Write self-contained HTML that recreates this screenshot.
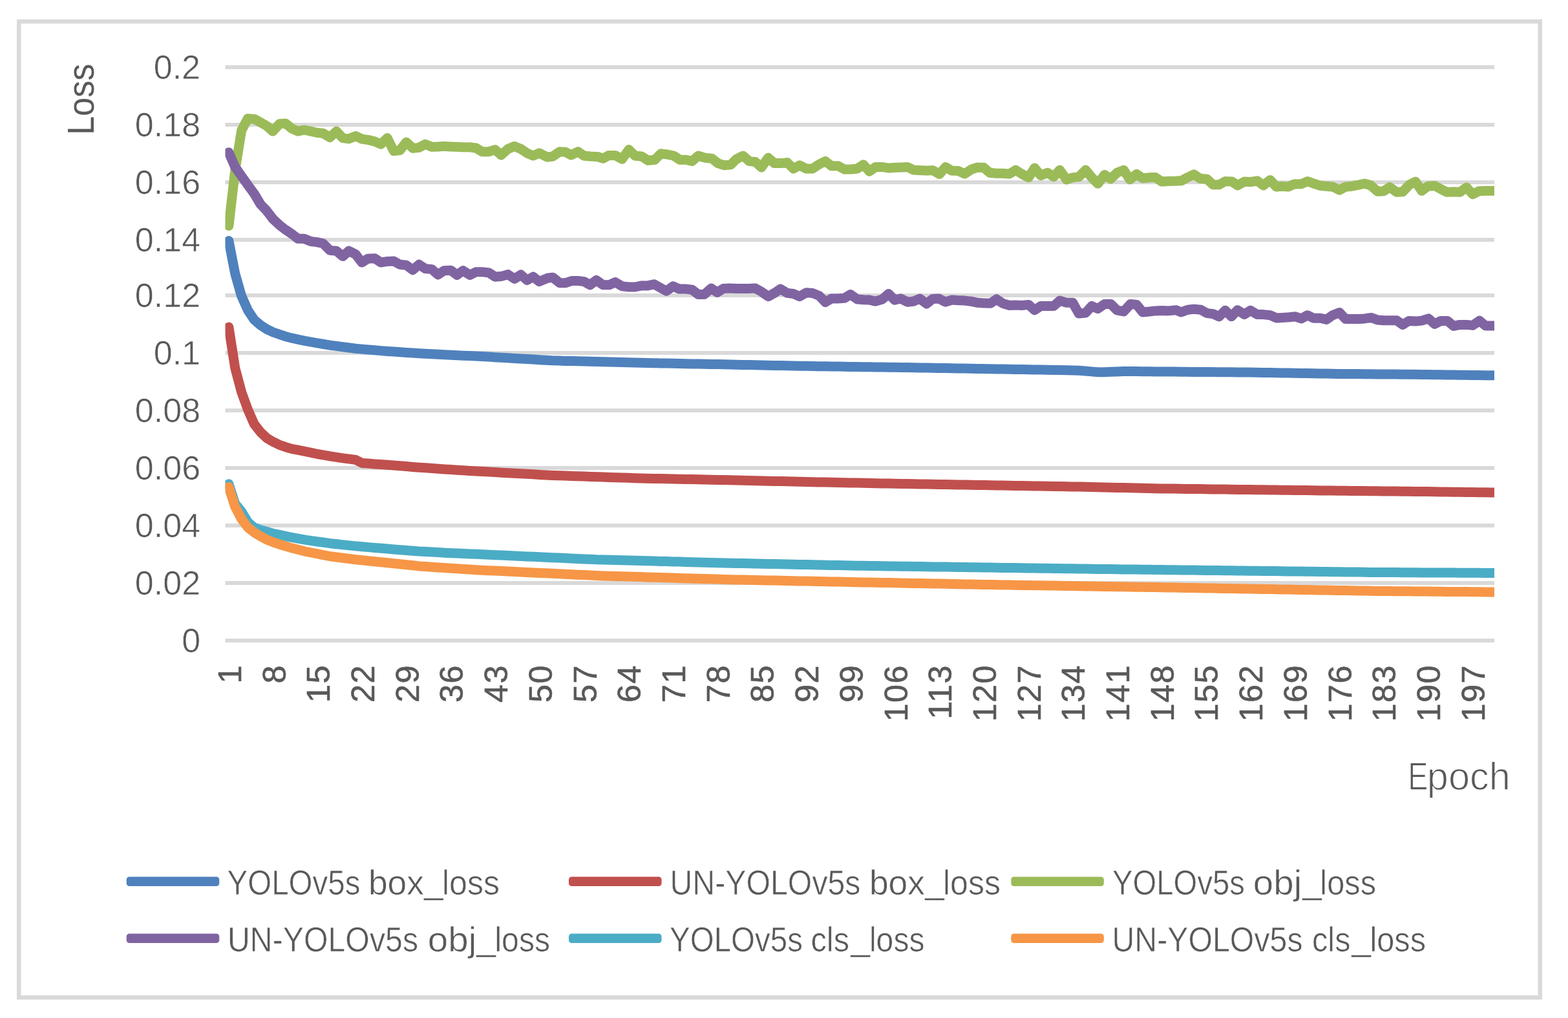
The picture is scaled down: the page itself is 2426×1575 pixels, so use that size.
<!DOCTYPE html>
<html lang="en"><head><meta charset="utf-8"><title>Loss curves</title>
<style>html,body{margin:0;padding:0;background:#fff;}body{width:2426px;height:1575px;overflow:hidden;}svg{display:block;}text{font-family:"Liberation Sans", sans-serif;fill:#595959;stroke:#fff;stroke-width:0.6;stroke-linejoin:round;}.r text,text.r{stroke:#595959;stroke-width:0.6;}text.t{stroke-width:1.3px;}text.t0{stroke:none;}</style>
</head><body>
<svg width="2426" height="1575" viewBox="0 0 2426 1575">
<defs><clipPath id="plot"><rect x="348.5" y="60" width="1963.5" height="960"/></clipPath></defs>
<rect x="0" y="0" width="2426" height="1575" fill="#ffffff"/>
<rect x="29.25" y="33.25" width="2353.5" height="1510" fill="#ffffff" stroke="#D9D9D9" stroke-width="6.5"/>
<g stroke="#D9D9D9" stroke-width="6">
<line x1="348.5" x2="2312.0" y1="104" y2="104"/>
<line x1="348.5" x2="2312.0" y1="193" y2="193"/>
<line x1="348.5" x2="2312.0" y1="282" y2="282"/>
<line x1="348.5" x2="2312.0" y1="371" y2="371"/>
<line x1="348.5" x2="2312.0" y1="457" y2="457"/>
<line x1="348.5" x2="2312.0" y1="546" y2="546"/>
<line x1="348.5" x2="2312.0" y1="635" y2="635"/>
<line x1="348.5" x2="2312.0" y1="724" y2="724"/>
<line x1="348.5" x2="2312.0" y1="813" y2="813"/>
<line x1="348.5" x2="2312.0" y1="902" y2="902"/>
<line x1="348.5" x2="2312.0" y1="991" y2="991"/>
</g>
<g font-size="52.09" text-anchor="end">
<text x="310.10" y="122.05">0.2</text>
<text x="310.10" y="211.05">0.18</text>
<text x="310.10" y="300.05">0.16</text>
<text x="310.10" y="389.05">0.14</text>
<text x="310.10" y="475.05">0.12</text>
<text x="310.10" y="564.05">0.1</text>
<text x="310.10" y="653.05">0.08</text>
<text x="310.10" y="742.05">0.06</text>
<text x="310.10" y="831.05">0.04</text>
<text x="310.10" y="920.05">0.02</text>
<text x="310.10" y="1009.05">0</text>
</g>
<g font-size="50.42" text-anchor="end" class="r" style="letter-spacing:1.4px">
<text transform="translate(372.96,1028.10) rotate(-90)">1</text>
<text transform="translate(441.66,1028.10) rotate(-90)">8</text>
<text transform="translate(510.37,1028.10) rotate(-90)">15</text>
<text transform="translate(579.07,1028.10) rotate(-90)">22</text>
<text transform="translate(647.78,1028.10) rotate(-90)">29</text>
<text transform="translate(716.48,1028.10) rotate(-90)">36</text>
<text transform="translate(785.19,1028.10) rotate(-90)">43</text>
<text transform="translate(853.89,1028.10) rotate(-90)">50</text>
<text transform="translate(922.60,1028.10) rotate(-90)">57</text>
<text transform="translate(991.30,1028.10) rotate(-90)">64</text>
<text transform="translate(1060.01,1028.10) rotate(-90)">71</text>
<text transform="translate(1128.71,1028.10) rotate(-90)">78</text>
<text transform="translate(1197.42,1028.10) rotate(-90)">85</text>
<text transform="translate(1266.12,1028.10) rotate(-90)">92</text>
<text transform="translate(1334.83,1028.10) rotate(-90)">99</text>
<text transform="translate(1403.53,1028.10) rotate(-90)">106</text>
<text transform="translate(1472.24,1028.10) rotate(-90)">113</text>
<text transform="translate(1540.94,1028.10) rotate(-90)">120</text>
<text transform="translate(1609.65,1028.10) rotate(-90)">127</text>
<text transform="translate(1678.35,1028.10) rotate(-90)">134</text>
<text transform="translate(1747.06,1028.10) rotate(-90)">141</text>
<text transform="translate(1815.76,1028.10) rotate(-90)">148</text>
<text transform="translate(1884.47,1028.10) rotate(-90)">155</text>
<text transform="translate(1953.17,1028.10) rotate(-90)">162</text>
<text transform="translate(2021.88,1028.10) rotate(-90)">169</text>
<text transform="translate(2090.58,1028.10) rotate(-90)">176</text>
<text transform="translate(2159.29,1028.10) rotate(-90)">183</text>
<text transform="translate(2227.99,1028.10) rotate(-90)">190</text>
<text transform="translate(2296.70,1028.10) rotate(-90)">197</text>
</g>
<text class="t0" font-size="57.85" transform="translate(145.10,208.83) rotate(-90)" textLength="110.25" lengthAdjust="spacingAndGlyphs">Loss</text>
<text class="t" font-size="60.76" y="1221.85"><tspan x="2178.14" textLength="31.23" lengthAdjust="spacingAndGlyphs">E</tspan><tspan x="2207.84" textLength="129.08" lengthAdjust="spacingAndGlyphs">poch</tspan></text>
<g clip-path="url(#plot)" fill="none" stroke-width="15" stroke-linejoin="round" stroke-linecap="round">
<path d="M353.9,372.6 L363.7,423.1 L373.5,457.6 L383.4,479.8 L393.2,494.6 L403.0,503.0 L412.8,509.4 L422.6,514.0 L432.4,517.3 L442.2,520.7 L452.1,523.2 L461.9,525.3 L471.7,527.4 L481.5,529.1 L491.3,530.8 L501.1,532.5 L510.9,534.2 L520.8,535.4 L530.6,536.7 L540.4,538.0 L550.2,539.2 L560.0,540.1 L569.8,540.9 L579.7,541.7 L589.5,542.6 L599.3,543.4 L609.1,544.1 L618.9,544.8 L628.7,545.4 L638.5,546.1 L648.4,546.8 L658.2,547.3 L668.0,547.8 L677.8,548.3 L687.6,548.8 L697.4,549.3 L707.2,549.7 L717.1,550.2 L726.9,550.6 L736.7,551.0 L746.5,551.6 L756.3,552.1 L766.1,552.7 L776.0,553.3 L785.8,553.8 L795.6,554.4 L805.4,555.0 L815.2,555.5 L825.0,556.1 L834.8,556.7 L844.7,557.2 L854.5,557.8 L864.3,558.1 L874.1,558.4 L883.9,558.6 L893.7,558.8 L903.5,559.1 L913.4,559.3 L923.2,559.6 L933.0,559.8 L942.8,560.1 L952.6,560.3 L962.4,560.6 L972.3,560.8 L982.1,561.1 L991.9,561.3 L1001.7,561.5 L1011.5,561.7 L1021.3,561.9 L1031.1,562.1 L1041.0,562.3 L1050.8,562.5 L1060.6,562.7 L1070.4,562.9 L1080.2,563.1 L1090.0,563.2 L1099.8,563.4 L1109.7,563.6 L1119.5,563.8 L1129.3,564.0 L1139.1,564.2 L1148.9,564.4 L1158.7,564.6 L1168.6,564.8 L1178.4,565.0 L1188.2,565.2 L1198.0,565.4 L1207.8,565.6 L1217.6,565.8 L1227.4,566.0 L1237.3,566.2 L1247.1,566.3 L1256.9,566.5 L1266.7,566.7 L1276.5,566.8 L1286.3,567.0 L1296.1,567.1 L1306.0,567.2 L1315.8,567.4 L1325.6,567.5 L1335.4,567.7 L1345.2,567.8 L1355.0,567.9 L1364.9,568.1 L1374.7,568.2 L1384.5,568.3 L1394.3,568.5 L1404.1,568.6 L1413.9,568.8 L1423.7,569.0 L1433.6,569.1 L1443.4,569.3 L1453.2,569.5 L1463.0,569.6 L1472.8,569.8 L1482.6,570.0 L1492.4,570.1 L1502.3,570.3 L1512.1,570.5 L1521.9,570.6 L1531.7,570.8 L1541.5,571.0 L1551.3,571.1 L1561.2,571.3 L1571.0,571.5 L1580.8,571.6 L1590.6,571.8 L1600.4,572.0 L1610.2,572.1 L1620.0,572.3 L1629.9,572.5 L1639.7,572.6 L1649.5,572.8 L1659.3,573.0 L1669.1,573.2 L1678.9,574.0 L1688.7,574.9 L1698.6,575.7 L1708.4,575.7 L1718.2,575.3 L1728.0,574.9 L1737.8,574.5 L1747.6,574.5 L1757.5,574.6 L1767.3,574.7 L1777.1,574.8 L1786.9,574.9 L1796.7,575.0 L1806.5,575.0 L1816.3,575.1 L1826.2,575.2 L1836.0,575.3 L1845.8,575.4 L1855.6,575.4 L1865.4,575.5 L1875.2,575.6 L1885.0,575.7 L1894.9,575.7 L1904.7,575.8 L1914.5,575.9 L1924.3,576.0 L1934.1,576.1 L1943.9,576.3 L1953.8,576.5 L1963.6,576.6 L1973.4,576.8 L1983.2,577.0 L1993.0,577.1 L2002.8,577.3 L2012.6,577.5 L2022.5,577.6 L2032.3,577.8 L2042.1,578.0 L2051.9,578.1 L2061.7,578.3 L2071.5,578.4 L2081.3,578.5 L2091.2,578.5 L2101.0,578.6 L2110.8,578.7 L2120.6,578.8 L2130.4,578.9 L2140.2,578.9 L2150.1,579.0 L2159.9,579.1 L2169.7,579.2 L2179.5,579.3 L2189.3,579.3 L2199.1,579.4 L2208.9,579.5 L2218.8,579.7 L2228.6,579.8 L2238.4,579.9 L2248.2,580.1 L2258.0,580.2 L2267.8,580.3 L2277.6,580.4 L2287.5,580.6 L2297.3,580.7 L2307.1,580.8 L2330.0,580.8" stroke="#4F81BD"/>
<path d="M353.9,506.1 L363.7,569.2 L373.5,606.2 L383.4,633.5 L393.2,655.9 L403.0,668.5 L412.8,677.7 L422.6,683.6 L432.4,688.3 L442.2,691.7 L452.1,694.6 L461.9,696.4 L471.7,698.3 L481.5,700.4 L491.3,702.5 L501.1,704.1 L510.9,705.8 L520.8,707.3 L530.6,708.9 L540.4,710.1 L550.2,711.4 L560.0,716.4 L569.8,717.1 L579.7,717.9 L589.5,718.6 L599.3,719.3 L609.1,720.1 L618.9,720.8 L628.7,721.6 L638.5,722.4 L648.4,723.2 L658.2,723.8 L668.0,724.5 L677.8,725.2 L687.6,725.9 L697.4,726.5 L707.2,727.2 L717.1,727.8 L726.9,728.4 L736.7,729.1 L746.5,729.6 L756.3,730.1 L766.1,730.6 L776.0,731.2 L785.8,731.7 L795.6,732.2 L805.4,732.8 L815.2,733.3 L825.0,733.8 L834.8,734.4 L844.7,734.9 L854.5,735.4 L864.3,735.8 L874.1,736.1 L883.9,736.4 L893.7,736.7 L903.5,737.1 L913.4,737.4 L923.2,737.7 L933.0,738.0 L942.8,738.4 L952.6,738.7 L962.4,739.0 L972.3,739.3 L982.1,739.7 L991.9,740.0 L1001.7,740.2 L1011.5,740.4 L1021.3,740.6 L1031.1,740.8 L1041.0,741.0 L1050.8,741.2 L1060.6,741.4 L1070.4,741.6 L1080.2,741.8 L1090.0,742.0 L1099.8,742.2 L1109.7,742.4 L1119.5,742.6 L1129.3,742.8 L1139.1,743.1 L1148.9,743.3 L1158.7,743.5 L1168.6,743.7 L1178.4,743.9 L1188.2,744.2 L1198.0,744.4 L1207.8,744.6 L1217.6,744.8 L1227.4,745.1 L1237.3,745.3 L1247.1,745.5 L1256.9,745.7 L1266.7,745.9 L1276.5,746.1 L1286.3,746.3 L1296.1,746.5 L1306.0,746.7 L1315.8,746.9 L1325.6,747.1 L1335.4,747.3 L1345.2,747.5 L1355.0,747.7 L1364.9,747.9 L1374.7,748.1 L1384.5,748.3 L1394.3,748.5 L1404.1,748.6 L1413.9,748.8 L1423.7,748.9 L1433.6,749.1 L1443.4,749.3 L1453.2,749.4 L1463.0,749.6 L1472.8,749.7 L1482.6,749.9 L1492.4,750.1 L1502.3,750.2 L1512.1,750.4 L1521.9,750.5 L1531.7,750.7 L1541.5,750.9 L1551.3,751.0 L1561.2,751.2 L1571.0,751.4 L1580.8,751.5 L1590.6,751.7 L1600.4,751.9 L1610.2,752.0 L1620.0,752.2 L1629.9,752.4 L1639.7,752.5 L1649.5,752.7 L1659.3,752.9 L1669.1,753.0 L1678.9,753.3 L1688.7,753.5 L1698.6,753.7 L1708.4,753.9 L1718.2,754.2 L1728.0,754.4 L1737.8,754.6 L1747.6,754.8 L1757.5,755.1 L1767.3,755.3 L1777.1,755.5 L1786.9,755.7 L1796.7,755.9 L1806.5,756.0 L1816.3,756.1 L1826.2,756.3 L1836.0,756.4 L1845.8,756.5 L1855.6,756.6 L1865.4,756.7 L1875.2,756.9 L1885.0,757.0 L1894.9,757.1 L1904.7,757.2 L1914.5,757.4 L1924.3,757.5 L1934.1,757.6 L1943.9,757.7 L1953.8,757.8 L1963.6,757.9 L1973.4,758.1 L1983.2,758.2 L1993.0,758.3 L2002.8,758.4 L2012.6,758.5 L2022.5,758.6 L2032.3,758.8 L2042.1,758.9 L2051.9,759.0 L2061.7,759.1 L2071.5,759.2 L2081.3,759.3 L2091.2,759.4 L2101.0,759.5 L2110.8,759.6 L2120.6,759.7 L2130.4,759.8 L2140.2,759.9 L2150.1,760.0 L2159.9,760.1 L2169.7,760.2 L2179.5,760.3 L2189.3,760.4 L2199.1,760.5 L2208.9,760.6 L2218.8,760.8 L2228.6,760.9 L2238.4,761.0 L2248.2,761.2 L2258.0,761.3 L2267.8,761.4 L2277.6,761.5 L2287.5,761.7 L2297.3,761.8 L2307.1,761.9 L2330.0,761.9" stroke="#C0504D"/>
<path d="M353.9,349.3 L363.8,263.1 L373.7,201.6 L383.3,183.6 L393.6,184.2 L403.1,189.4 L412.6,194.7 L422.0,203.1 L432.6,191.6 L442.0,191.1 L451.5,198.9 L461.0,203.1 L470.4,201.0 L480.9,203.1 L490.4,205.2 L499.9,206.3 L510.4,212.6 L520.5,203.1 L530.4,213.6 L539.8,214.7 L550.3,210.5 L559.8,215.1 L569.3,216.4 L579.8,218.9 L589.3,223.1 L599.2,213.6 L609.2,233.6 L618.7,232.6 L628.6,219.9 L638.7,229.4 L648.2,228.4 L658.0,223.1 L668.1,227.3 L677.6,226.9 L687.1,226.3 L697.6,226.9 L707.1,227.3 L716.5,227.7 L727.0,227.7 L736.5,229.0 L746.0,234.7 L756.5,234.7 L766.0,231.5 L775.4,239.9 L785.9,230.5 L796.0,226.3 L805.9,230.5 L815.4,236.8 L824.9,241.0 L834.3,236.8 L846.8,243.1 L855.2,242.0 L865.8,234.7 L875.2,235.3 L883.6,239.9 L894.2,234.7 L903.6,241.0 L914.1,242.0 L924.7,242.5 L933.1,245.2 L941.5,240.4 L952.0,240.4 L962.5,246.2 L973.0,231.5 L982.5,241.0 L993.0,242.0 L1002.5,248.3 L1013.0,247.3 L1022.5,237.8 L1031.9,238.9 L1042.5,241.0 L1051.9,247.3 L1061.4,247.3 L1070.8,249.4 L1080.3,241.0 L1090.8,244.1 L1101.4,245.2 L1110.8,252.6 L1120.3,255.7 L1130.8,254.7 L1139.2,246.2 L1149.7,241.0 L1159.2,249.4 L1168.7,250.5 L1178.1,258.9 L1188.6,244.1 L1198.1,252.6 L1208.6,252.6 L1218.1,251.5 L1227.6,261.0 L1237.0,255.7 L1247.5,261.0 L1257.0,261.0 L1266.5,254.7 L1277.0,249.4 L1286.5,256.8 L1297.0,256.8 L1306.4,262.0 L1315.9,262.0 L1326.3,261.0 L1335.8,254.7 L1345.2,265.2 L1354.7,258.4 L1364.2,258.4 L1374.7,259.9 L1384.2,259.3 L1393.6,258.9 L1404.1,258.4 L1413.6,263.1 L1423.1,263.5 L1433.6,264.1 L1443.1,263.5 L1453.6,269.4 L1463.0,258.4 L1472.5,264.1 L1483.0,264.5 L1492.5,269.0 L1503.0,262.0 L1512.5,258.9 L1521.9,259.3 L1531.4,267.3 L1541.9,268.3 L1551.4,268.3 L1561.9,269.0 L1571.4,263.1 L1580.8,269.0 L1591.4,274.6 L1600.8,259.9 L1610.3,271.5 L1620.8,267.3 L1630.3,273.6 L1639.7,263.1 L1650.2,277.8 L1659.7,274.6 L1669.2,273.6 L1679.7,263.1 L1689.2,274.6 L1698.6,284.1 L1709.1,270.4 L1718.6,276.7 L1728.1,267.3 L1738.6,263.1 L1748.1,277.8 L1758.6,269.4 L1768.0,275.7 L1778.6,274.6 L1788.0,274.6 L1797.5,281.0 L1808.0,280.3 L1820.0,279.9 L1828.4,279.4 L1837.9,274.2 L1847.3,269.9 L1856.8,276.3 L1867.3,276.9 L1876.8,285.7 L1886.3,285.7 L1895.7,280.5 L1906.2,281.1 L1914.7,286.8 L1925.2,281.1 L1934.6,281.5 L1945.2,279.8 L1954.6,286.8 L1965.1,278.4 L1974.6,288.9 L1984.1,288.2 L1993.5,288.9 L2003.0,284.7 L2013.5,284.7 L2023.0,280.5 L2032.5,284.0 L2043.0,287.4 L2052.4,288.2 L2061.9,288.9 L2072.4,294.1 L2081.9,288.9 L2091.4,288.2 L2101.9,286.1 L2111.3,284.0 L2120.8,286.8 L2131.3,296.2 L2140.8,295.8 L2150.2,289.5 L2160.8,297.3 L2170.2,296.7 L2180.7,285.7 L2190.2,281.1 L2199.7,295.2 L2209.1,288.2 L2219.7,287.4 L2229.1,292.5 L2238.6,297.3 L2249.1,296.7 L2258.6,297.3 L2269.1,289.9 L2278.6,300.5 L2288.0,295.8 L2298.5,295.2 L2330.0,295.2" stroke="#9BBB59"/>
<path d="M353.9,235.7 L363.8,258.4 L373.7,272.5 L383.3,286.0 L393.6,300.1 L403.1,316.1 L412.6,326.0 L422.0,338.4 L432.6,348.3 L442.0,355.6 L451.5,361.9 L461.0,369.3 L470.4,369.3 L480.9,373.5 L490.4,374.6 L499.9,376.7 L510.4,387.2 L520.5,388.2 L530.4,396.6 L539.8,388.2 L550.3,393.5 L559.8,406.1 L569.3,400.2 L579.8,399.8 L589.3,406.1 L599.2,404.4 L609.2,404.0 L618.7,409.3 L628.6,410.3 L638.7,417.7 L648.2,409.3 L658.0,415.6 L668.1,416.6 L677.6,425.0 L687.1,418.7 L697.6,418.3 L707.1,425.5 L716.5,418.7 L727.0,425.5 L736.5,420.8 L746.0,420.8 L756.5,421.9 L766.0,428.2 L775.4,427.6 L785.9,424.6 L796.0,431.4 L805.9,425.0 L815.4,433.5 L824.9,428.2 L834.3,435.6 L846.8,430.3 L855.2,429.2 L865.8,437.7 L875.2,437.7 L884.7,434.5 L894.2,434.5 L903.6,435.6 L913.1,440.8 L922.6,433.5 L933.1,440.8 L942.5,440.8 L952.0,436.6 L962.5,442.9 L973.0,444.0 L982.5,444.0 L993.0,441.9 L1002.5,441.9 L1012.0,439.8 L1021.4,445.0 L1030.9,450.3 L1041.4,442.9 L1050.9,447.1 L1061.4,447.1 L1070.8,448.2 L1080.3,455.5 L1089.8,455.5 L1100.3,446.1 L1109.8,452.4 L1119.2,446.5 L1128.7,446.1 L1139.2,446.5 L1148.7,446.5 L1158.1,446.5 L1168.7,446.1 L1178.1,451.3 L1188.6,458.7 L1198.1,453.4 L1207.6,447.1 L1218.1,453.4 L1227.6,454.5 L1237.0,458.7 L1247.5,452.8 L1257.0,453.4 L1267.5,457.6 L1277.0,467.5 L1286.5,461.9 L1295.9,461.9 L1306.4,461.2 L1315.9,455.5 L1326.3,463.0 L1335.8,463.7 L1345.2,464.1 L1354.7,466.2 L1365.2,463.0 L1374.7,454.6 L1384.2,464.1 L1393.6,462.0 L1404.1,467.2 L1413.6,466.2 L1423.1,462.0 L1433.6,470.0 L1443.1,462.4 L1452.5,462.0 L1463.0,467.2 L1472.5,464.1 L1483.0,464.7 L1492.5,465.1 L1502.0,466.2 L1512.5,468.3 L1521.9,468.9 L1532.5,469.3 L1541.9,463.0 L1551.4,469.3 L1561.9,472.5 L1571.4,472.1 L1580.8,472.5 L1591.4,471.4 L1600.8,479.8 L1610.3,473.5 L1620.8,473.5 L1630.3,473.5 L1639.7,465.1 L1650.2,468.3 L1659.7,468.3 L1669.2,485.1 L1679.7,484.1 L1689.2,473.5 L1698.6,477.7 L1709.1,470.4 L1718.6,470.4 L1728.1,479.8 L1738.6,482.0 L1749.1,470.4 L1758.6,471.4 L1768.0,483.0 L1778.6,482.0 L1788.0,480.9 L1797.5,480.5 L1808.0,480.9 L1820.0,479.8 L1827.4,483.0 L1837.9,479.2 L1847.3,478.2 L1857.9,479.2 L1867.3,484.5 L1876.8,485.6 L1886.3,489.8 L1895.7,480.3 L1905.2,489.8 L1914.7,479.7 L1925.2,486.6 L1934.6,480.3 L1945.2,486.6 L1954.6,486.6 L1965.1,487.7 L1974.6,491.9 L1984.1,491.4 L1994.6,490.8 L2004.1,489.8 L2013.5,492.9 L2023.0,487.7 L2032.5,492.3 L2043.0,492.3 L2052.4,494.4 L2061.9,487.7 L2072.4,483.5 L2081.9,493.6 L2091.4,493.6 L2101.9,493.6 L2111.3,492.9 L2121.9,491.4 L2131.3,495.0 L2140.8,495.7 L2151.3,495.7 L2160.8,495.7 L2170.2,502.4 L2179.7,496.5 L2190.2,497.1 L2199.7,496.1 L2210.2,492.9 L2219.7,501.3 L2229.1,496.5 L2239.6,496.5 L2249.1,504.5 L2258.6,502.4 L2269.1,502.4 L2278.6,503.4 L2289.1,496.1 L2298.5,504.1 L2330.0,504.1" stroke="#8064A2"/>
<path d="M353.9,748.8 L363.7,779.1 L373.5,791.2 L383.4,807.7 L393.2,816.1 L403.0,819.8 L412.8,822.5 L422.6,825.4 L432.4,827.4 L442.2,829.6 L452.1,831.6 L461.9,833.4 L471.7,835.1 L481.5,836.6 L491.3,838.0 L501.1,839.3 L510.9,840.7 L520.8,841.8 L530.6,842.9 L540.4,843.9 L550.2,844.9 L560.0,845.7 L569.8,846.6 L579.7,847.4 L589.5,848.3 L599.3,849.1 L609.1,849.9 L618.9,850.7 L628.7,851.5 L638.5,852.3 L648.4,853.1 L658.2,853.6 L668.0,854.1 L677.8,854.6 L687.6,855.2 L697.4,855.7 L707.2,856.1 L717.1,856.5 L726.9,856.9 L736.7,857.3 L746.5,857.8 L756.3,858.2 L766.1,858.7 L776.0,859.1 L785.8,859.6 L795.6,860.0 L805.4,860.4 L815.2,860.9 L825.0,861.3 L834.8,861.8 L844.7,862.2 L854.5,862.7 L864.3,863.1 L874.1,863.5 L883.9,864.0 L893.7,864.4 L903.5,864.9 L913.4,865.3 L923.2,865.8 L933.0,866.0 L942.8,866.3 L952.6,866.6 L962.4,866.8 L972.3,867.1 L982.1,867.3 L991.9,867.6 L1001.7,867.8 L1011.5,868.1 L1021.3,868.4 L1031.1,868.6 L1041.0,868.9 L1050.8,869.1 L1060.6,869.4 L1070.4,869.7 L1080.2,869.9 L1090.0,870.2 L1099.8,870.4 L1109.7,870.7 L1119.5,871.0 L1129.3,871.2 L1139.1,871.4 L1148.9,871.6 L1158.7,871.8 L1168.6,872.0 L1178.4,872.2 L1188.2,872.4 L1198.0,872.6 L1207.8,872.8 L1217.6,873.0 L1227.4,873.2 L1237.3,873.4 L1247.1,873.6 L1256.9,873.8 L1266.7,874.0 L1276.5,874.2 L1286.3,874.4 L1296.1,874.6 L1306.0,874.8 L1315.8,875.0 L1325.6,875.2 L1335.4,875.3 L1345.2,875.5 L1355.0,875.6 L1364.9,875.8 L1374.7,875.9 L1384.5,876.0 L1394.3,876.2 L1404.1,876.3 L1413.9,876.4 L1423.7,876.6 L1433.6,876.7 L1443.4,876.9 L1453.2,877.0 L1463.0,877.1 L1472.8,877.3 L1482.6,877.4 L1492.4,877.5 L1502.3,877.7 L1512.1,877.8 L1521.9,878.0 L1531.7,878.1 L1541.5,878.2 L1551.3,878.4 L1561.2,878.5 L1571.0,878.6 L1580.8,878.8 L1590.6,878.9 L1600.4,879.0 L1610.2,879.2 L1620.0,879.3 L1629.9,879.4 L1639.7,879.6 L1649.5,879.7 L1659.3,879.8 L1669.1,880.0 L1678.9,880.1 L1688.7,880.2 L1698.6,880.4 L1708.4,880.5 L1718.2,880.6 L1728.0,880.7 L1737.8,880.9 L1747.6,881.0 L1757.5,881.1 L1767.3,881.2 L1777.1,881.3 L1786.9,881.4 L1796.7,881.6 L1806.5,881.7 L1816.3,881.8 L1826.2,881.9 L1836.0,882.0 L1845.8,882.1 L1855.6,882.2 L1865.4,882.4 L1875.2,882.5 L1885.0,882.6 L1894.9,882.7 L1904.7,882.8 L1914.5,882.9 L1924.3,883.1 L1934.1,883.2 L1943.9,883.3 L1953.8,883.4 L1963.6,883.5 L1973.4,883.6 L1983.2,883.7 L1993.0,883.9 L2002.8,884.0 L2012.6,884.1 L2022.5,884.2 L2032.3,884.3 L2042.1,884.4 L2051.9,884.6 L2061.7,884.7 L2071.5,884.8 L2081.3,884.9 L2091.2,885.0 L2101.0,885.1 L2110.8,885.3 L2120.6,885.4 L2130.4,885.5 L2140.2,885.5 L2150.1,885.6 L2159.9,885.6 L2169.7,885.7 L2179.5,885.8 L2189.3,885.8 L2199.1,885.9 L2208.9,885.9 L2218.8,886.0 L2228.6,886.0 L2238.4,886.1 L2248.2,886.1 L2258.0,886.2 L2267.8,886.2 L2277.6,886.3 L2287.5,886.3 L2297.3,886.4 L2307.1,886.4 L2330.0,886.4" stroke="#4BACC6"/>
<path d="M353.9,753.5 L363.7,784.1 L373.5,802.7 L383.4,815.8 L393.2,823.7 L403.0,829.6 L412.8,835.0 L422.6,838.8 L432.4,842.2 L442.2,845.1 L452.1,848.1 L461.9,850.6 L471.7,853.1 L481.5,855.0 L491.3,856.8 L501.1,858.8 L510.9,860.7 L520.8,862.0 L530.6,863.2 L540.4,864.5 L550.2,865.8 L560.0,866.8 L569.8,867.8 L579.7,868.8 L589.5,869.8 L599.3,870.8 L609.1,871.8 L618.9,872.8 L628.7,873.8 L638.5,874.8 L648.4,875.9 L658.2,876.5 L668.0,877.2 L677.8,877.9 L687.6,878.5 L697.4,879.2 L707.2,879.8 L717.1,880.5 L726.9,881.1 L736.7,881.7 L746.5,882.2 L756.3,882.7 L766.1,883.1 L776.0,883.6 L785.8,884.1 L795.6,884.5 L805.4,885.0 L815.2,885.5 L825.0,885.9 L834.8,886.4 L844.7,886.8 L854.5,887.3 L864.3,887.8 L874.1,888.2 L883.9,888.7 L893.7,889.2 L903.5,889.6 L913.4,890.1 L923.2,890.6 L933.0,890.9 L942.8,891.2 L952.6,891.4 L962.4,891.7 L972.3,892.0 L982.1,892.3 L991.9,892.6 L1001.7,892.9 L1011.5,893.2 L1021.3,893.5 L1031.1,893.8 L1041.0,894.1 L1050.8,894.4 L1060.6,894.7 L1070.4,895.0 L1080.2,895.3 L1090.0,895.6 L1099.8,895.8 L1109.7,896.1 L1119.5,896.4 L1129.3,896.7 L1139.1,896.9 L1148.9,897.1 L1158.7,897.3 L1168.6,897.5 L1178.4,897.7 L1188.2,897.9 L1198.0,898.1 L1207.8,898.3 L1217.6,898.5 L1227.4,898.7 L1237.3,898.9 L1247.1,899.1 L1256.9,899.3 L1266.7,899.5 L1276.5,899.7 L1286.3,899.9 L1296.1,900.1 L1306.0,900.3 L1315.8,900.5 L1325.6,900.7 L1335.4,900.9 L1345.2,901.0 L1355.0,901.2 L1364.9,901.4 L1374.7,901.6 L1384.5,901.8 L1394.3,902.0 L1404.1,902.2 L1413.9,902.4 L1423.7,902.6 L1433.6,902.7 L1443.4,902.9 L1453.2,903.1 L1463.0,903.3 L1472.8,903.5 L1482.6,903.7 L1492.4,903.9 L1502.3,904.1 L1512.1,904.3 L1521.9,904.4 L1531.7,904.6 L1541.5,904.8 L1551.3,904.9 L1561.2,905.1 L1571.0,905.2 L1580.8,905.4 L1590.6,905.5 L1600.4,905.7 L1610.2,905.8 L1620.0,906.0 L1629.9,906.1 L1639.7,906.3 L1649.5,906.4 L1659.3,906.6 L1669.1,906.7 L1678.9,906.9 L1688.7,907.1 L1698.6,907.2 L1708.4,907.4 L1718.2,907.5 L1728.0,907.7 L1737.8,907.8 L1747.6,908.0 L1757.5,908.2 L1767.3,908.3 L1777.1,908.5 L1786.9,908.6 L1796.7,908.8 L1806.5,909.0 L1816.3,909.1 L1826.2,909.3 L1836.0,909.5 L1845.8,909.6 L1855.6,909.8 L1865.4,910.0 L1875.2,910.1 L1885.0,910.3 L1894.9,910.4 L1904.7,910.6 L1914.5,910.8 L1924.3,910.9 L1934.1,911.1 L1943.9,911.3 L1953.8,911.4 L1963.6,911.6 L1973.4,911.8 L1983.2,911.9 L1993.0,912.1 L2002.8,912.2 L2012.6,912.4 L2022.5,912.6 L2032.3,912.7 L2042.1,912.9 L2051.9,913.1 L2061.7,913.2 L2071.5,913.4 L2081.3,913.6 L2091.2,913.7 L2101.0,913.9 L2110.8,914.0 L2120.6,914.2 L2130.4,914.4 L2140.2,914.5 L2150.1,914.6 L2159.9,914.7 L2169.7,914.7 L2179.5,914.8 L2189.3,914.9 L2199.1,915.0 L2208.9,915.1 L2218.8,915.2 L2228.6,915.3 L2238.4,915.4 L2248.2,915.5 L2258.0,915.5 L2267.8,915.6 L2277.6,915.7 L2287.5,915.8 L2297.3,915.9 L2307.1,916.0 L2330.0,916.0" stroke="#F79646"/>
</g>
<rect x="195.7" y="1356.4" width="143.6" height="14.6" rx="4.5" fill="#4F81BD"/>
<rect x="880.0" y="1356.4" width="143.6" height="14.6" rx="4.5" fill="#C0504D"/>
<rect x="1564.3" y="1356.4" width="143.6" height="14.6" rx="4.5" fill="#9BBB59"/>
<rect x="195.7" y="1444.5" width="143.6" height="14.6" rx="4.5" fill="#8064A2"/>
<rect x="880.0" y="1444.5" width="143.6" height="14.6" rx="4.5" fill="#4BACC6"/>
<rect x="1564.3" y="1444.5" width="143.6" height="14.6" rx="4.5" fill="#F79646"/>
<g font-size="54.07">
<text y="1383.70"><tspan x="351.48" textLength="206.04" lengthAdjust="spacingAndGlyphs">YOLOv5s</tspan> <tspan x="569.90" textLength="86.15" lengthAdjust="spacingAndGlyphs">box</tspan><tspan x="656.00" dy="-1.8" textLength="29.66" lengthAdjust="spacingAndGlyphs">_</tspan><tspan x="683.88" dy="1.8" textLength="89.18" lengthAdjust="spacingAndGlyphs">loss</tspan></text>
<text y="1383.70"><tspan x="1036.45" textLength="295.07" lengthAdjust="spacingAndGlyphs">UN-YOLOv5s</tspan> <tspan x="1344.88" textLength="86.19" lengthAdjust="spacingAndGlyphs">box</tspan><tspan x="1431.20" dy="-1.8" textLength="29.66" lengthAdjust="spacingAndGlyphs">_</tspan><tspan x="1458.90" dy="1.8" textLength="89.20" lengthAdjust="spacingAndGlyphs">loss</tspan></text>
<text y="1383.70"><tspan x="1720.97" textLength="205.05" lengthAdjust="spacingAndGlyphs">YOLOv5s</tspan> <tspan x="1938.81" textLength="75.40" lengthAdjust="spacingAndGlyphs">obj</tspan><tspan x="2015.20" dy="-1.8" textLength="29.76" lengthAdjust="spacingAndGlyphs">_</tspan><tspan x="2042.33" dy="1.8" textLength="86.80" lengthAdjust="spacingAndGlyphs">loss</tspan></text>
<text y="1471.80"><tspan x="351.96" textLength="295.07" lengthAdjust="spacingAndGlyphs">UN-YOLOv5s</tspan> <tspan x="661.86" textLength="75.39" lengthAdjust="spacingAndGlyphs">obj</tspan><tspan x="737.60" dy="-1.8" textLength="29.76" lengthAdjust="spacingAndGlyphs">_</tspan><tspan x="765.41" dy="1.8" textLength="85.63" lengthAdjust="spacingAndGlyphs">loss</tspan></text>
<text y="1471.80"><tspan x="1035.97" textLength="206.07" lengthAdjust="spacingAndGlyphs">YOLOv5s</tspan> <tspan x="1254.46" textLength="59.61" lengthAdjust="spacingAndGlyphs">cls</tspan><tspan x="1316.50" dy="-1.8" textLength="29.76" lengthAdjust="spacingAndGlyphs">_</tspan><tspan x="1344.92" dy="1.8" textLength="85.64" lengthAdjust="spacingAndGlyphs">loss</tspan></text>
<text y="1471.80"><tspan x="1720.46" textLength="295.07" lengthAdjust="spacingAndGlyphs">UN-YOLOv5s</tspan> <tspan x="2029.98" textLength="59.57" lengthAdjust="spacingAndGlyphs">cls</tspan><tspan x="2091.60" dy="-1.8" textLength="29.76" lengthAdjust="spacingAndGlyphs">_</tspan><tspan x="2119.38" dy="1.8" textLength="86.71" lengthAdjust="spacingAndGlyphs">loss</tspan></text>
</g>
</svg>
</body></html>
